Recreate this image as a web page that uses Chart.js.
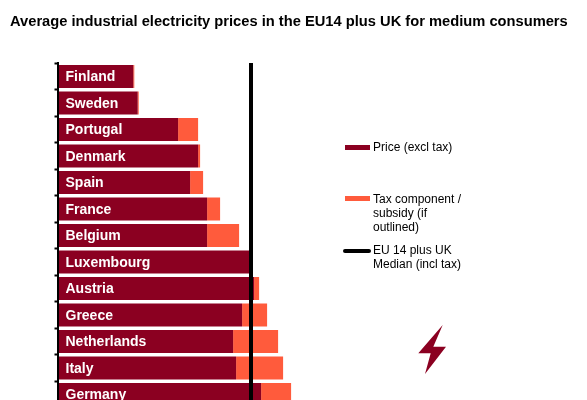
<!DOCTYPE html>
<html>
<head>
<meta charset="utf-8">
<title>Industrial electricity prices</title>
<script src="https://cdn.jsdelivr.net/npm/chart.js@4.4.0/dist/chart.umd.min.js"></script>
<style>
    html, body { margin: 0; padding: 0; background: #fff; overflow: hidden; }
    body { width: 587px; height: 400px; position: relative; font-family: "Liberation Sans", Arial, sans-serif; }
    #title { position: absolute; left: 10px; top: 14px; font-size: 14.7px; line-height: 15px; font-weight: bold; color: #000; white-space: nowrap; }
    #chartBox { position: absolute; left: 0; top: 0; width: 587px; height: 440px; }
    .legText { position: absolute; left: 373px; font-size: 12px; line-height: 14px; color: #000; white-space: nowrap; }
    .swatch { position: absolute; left: 345px; width: 25px; height: 5px; }
    #medSwatch { position: absolute; left: 343px; top: 248.5px; width: 28px; height: 4px; background: #000; border-radius: 2px; }
    #bolt { position: absolute; left: 0; top: 0; }
</style>
</head>
<body>
<div id="chartBox"><canvas id="PricesChart" width="587" height="440"></canvas></div>
<div id="title">Average industrial electricity prices in the EU14 plus UK for medium consumers</div>

<!-- legend -->
<div class="swatch" style="top:144.5px; background:#8B0021;"></div>
<div class="legText" style="top:139.5px;">Price (excl tax)</div>
<div class="swatch" style="top:196px; background:#FF5B3C;"></div>
<div class="legText" style="top:191.8px;">Tax component /<br>subsidy (if<br>outlined)</div>
<div id="medSwatch"></div>
<div class="legText" style="top:243.3px;">EU 14 plus UK<br>Median (incl tax)</div>

<svg id="bolt" width="587" height="400">
    <polygon points="442.7,325 433.3,346.7 446,346.7 425,374 430.7,353.3 418.3,353.3" fill="#8B0021"/>
</svg>

<script>
// data (c/kWh)
var countries = ['Finland', 'Sweden', 'Portugal', 'Denmark', 'Spain', 'France', 'Belgium',
    'Luxembourg', 'Austria', 'Greece', 'Netherlands', 'Italy', 'Germany'];
var priceExclTax = [3.79, 4.01, 6.03, 7.03, 6.63, 7.48, 7.48, 9.65, 9.83, 9.23, 8.78, 8.93, 10.18];
var taxComponent = [0.05, 0.05, 1.0, 0.1, 0.65, 0.65, 1.6, 0, 0.25, 1.25, 2.25, 2.35, 1.5];
var medianInclTax = 9.7;
var xRange = [0, 13.5];

var darkRed = '#8B0021';
var orange = '#FF5B3C';

const ctx = document.getElementById('PricesChart');

// chart area runs 63.25 .. 407.75, the page cuts it at 400 like the original
new Chart(ctx, {
    type: 'bar',
    data: {
        labels: countries,
        datasets: [{
            label: 'Price (excl tax)',
            data: priceExclTax,
            backgroundColor: darkRed,
            borderWidth: 0,
            grouped: false,
            barPercentage: 0.868,
            categoryPercentage: 1
        },
        {
            label: 'Tax component / subsidy (if outlined)',
            data: taxComponent,
            backgroundColor: orange,
            borderWidth: 0,
            grouped: false,
            barPercentage: 0.868,
            categoryPercentage: 1
        }]
    },
    options: {
        indexAxis: 'y',
        responsive: false,
        animation: false,
        layout: {
            padding: { left: 47.5, right: 259.5, top: 63.25, bottom: 32.25 }
        },
        plugins: {
            legend: { display: false },
            title: { display: false },
            tooltip: { enabled: false }
        },
        scales: {
            x: {
                display: false,
                stacked: true,
                min: xRange[0],
                max: xRange[1]
            },
            // second x axis only carries the median as one grid line
            xMedian: {
                type: 'linear',
                axis: 'x',
                position: 'top',
                min: xRange[0],
                max: xRange[1],
                afterBuildTicks: function (scale) { scale.ticks = [{ value: medianInclTax }]; },
                afterFit: function (scale) { scale.height = 0; },
                border: { display: false },
                grid: { z: 2, drawTicks: false, color: '#000', lineWidth: 4 },
                ticks: { display: false }
            },
            y: {
                stacked: true,
                afterFit: function (scale) { scale.width = 10; },
                border: { display: true, color: '#000', width: 2, z: 1 },
                grid: {
                    drawOnChartArea: false,
                    drawTicks: true,
                    tickLength: 3,
                    tickWidth: 2,
                    tickColor: '#000'
                },
                ticks: {
                    z: 1,
                    mirror: true,
                    padding: 8,
                    labelOffset: 1,
                    autoSkip: false,
                    color: '#fff',
                    font: { family: '"Liberation Sans", Arial, sans-serif', size: 14, weight: 'bold' }
                }
            }
        }
    }
});
</script>
</body>
</html>
